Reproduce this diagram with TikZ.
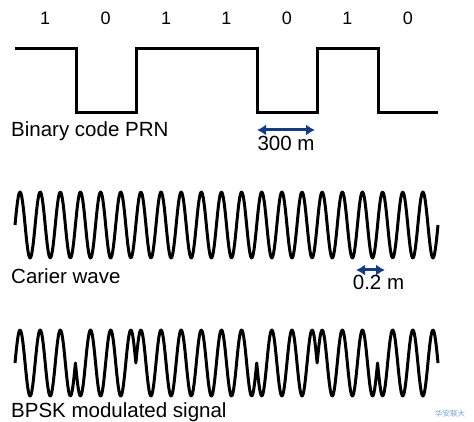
\documentclass[tikz,border=0pt]{standalone}
\usepackage{fontspec}
\setmainfont{Liberation Sans}
\newfontfamily\cjk{Noto Sans CJK SC}
\usetikzlibrary{arrows.meta,calc}
\definecolor{dimblue}{RGB}{20,60,130}
\definecolor{markblue}{RGB}{120,160,210}
\begin{document}
\begin{tikzpicture}[x=1pt,y=-1pt,line join=round,
    sig/.style={line width=3pt},
    dimline/.style={draw=dimblue,line width=3pt,{Latex[length=9pt,width=11pt]}-{Latex[length=9pt,width=11pt]}},
    lbl/.style={anchor=west,inner sep=0pt,font=\fontsize{20.5}{21}\selectfont},
    bit/.style={inner sep=0pt,font=\fontsize{18}{18}\selectfont}]
                \useasboundingbox (0,0) rectangle (474,422);
                \pgfmathsetmacro\w{423/7}
                \pgfmathsetmacro\k{7560/423}
                \path
                (257,130) coordinate (P1)
                (315,130) coordinate (P2)
                (356,270) coordinate (C1)
                (385,270) coordinate (C2)
                ;
                % code bits
                \foreach \b [count=\i] in {1,0,1,1,0,1,0}\node[bit] (b\i) at ({15+\w*(\i-0.5)},18) {\b};
                \draw[sig,line join=miter] (15,49)--(76,49)--(76,113)--(136,113)--(136,49)--(257,49)--(257,113)--(317,113)--(317,49)--(378,49)--(378,113)--(438,113);
                \node[lbl] (prn) at (11,131) {Binary code PRN};
                \draw[dimline] (P1)--(P2);
                \node[lbl,anchor=north] (len) at ($(P1)!0.5!(P2)+(0,6)$) {300 m};
                % carrier
                \draw[sig] plot[domain=15:438,samples=500] (\x,{225-33*sin(\k*(\x-15))});
                \node[lbl] (car) at (11,276) {Carier wave};
                \draw[dimline] (C1)--(C2);
                \node[lbl,anchor=north] (lam) at ($(C1)!0.5!(C2)+(8,5)$) {0.2 m};
                % modulated
                \draw[sig] (15,363) \foreach \b [count=\i] in {1,0,1,1,0,1,0} {
                    -- plot[domain={15+\w*(\i-1)}:{15+\w*\i},samples=80] (\x,{363-33*(2*\b-1)*sin(\k*(\x-15-\w*(\i-1)))})};
                \node[lbl] (bpsk) at (11,412) {BPSK modulated signal};
                \node[text=markblue,inner sep=0pt,font=\cjk\fontsize{7.5}{8}\selectfont] (mark) at (450,414) {华安联大};
            \end{tikzpicture}
\end{document}
